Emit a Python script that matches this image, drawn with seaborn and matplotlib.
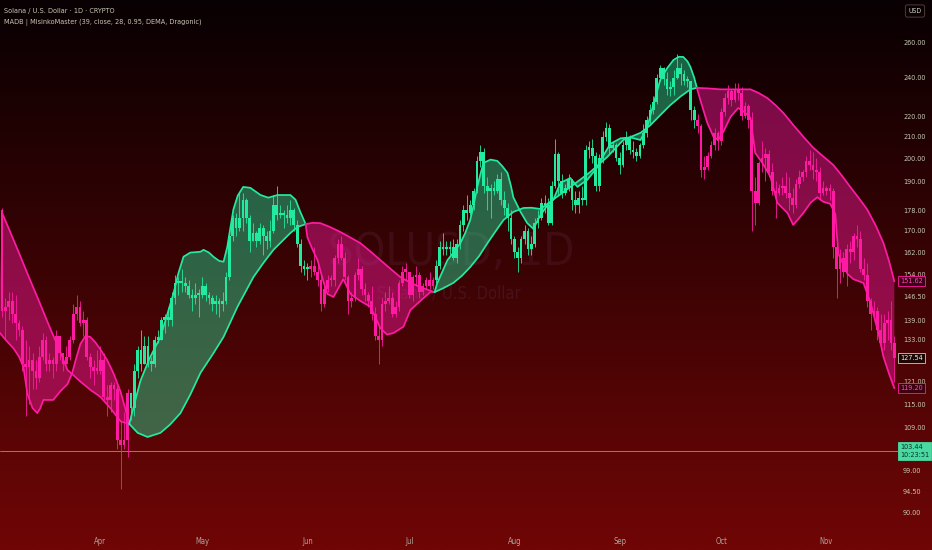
import numpy as np
import pandas as pd
import matplotlib
matplotlib.use("Agg")
import matplotlib.pyplot as plt
import matplotlib.transforms as mtransforms
from matplotlib import font_manager
from matplotlib.ticker import NullLocator
import seaborn as sns

# ---------------- data ----------------
start_date = "2025-03-02"
first_open = 142.0

close = [
    # March (from Mar 2)
    178, 142, 143, 145, 141, 138, 136, 126, 125, 127, 124, 122, 128, 133, 126,
    127, 126, 134, 129, 126, 128, 133, 141, 143, 138, 139, 128, 125, 124, 124,
    # April
    127, 117, 116, 120, 119, 106, 105, 106, 118, 114, 124, 130, 126, 131, 126,
    126, 133, 133, 139, 140, 139, 146, 151, 151, 151, 150, 147, 146, 147, 147,
    # May
    150, 147, 146, 144, 145, 144, 145, 153, 168, 175, 171, 175, 182, 175, 166,
    169, 166, 171, 168, 166, 170, 180, 176, 177, 176, 175, 178, 172, 165, 157, 156,
    # June
    156, 157, 155, 152, 144, 149, 152, 152, 160, 165, 160, 153, 145, 146, 154,
    156, 149, 147, 145, 141, 134, 133, 144, 145, 146, 141, 143, 151, 155, 155,
    # July
    147, 153, 154, 148, 150, 152, 150, 152, 157, 164, 163, 163, 164, 160, 165,
    172, 178, 177, 180, 186, 199, 203, 188, 186, 187, 186, 191, 182, 179, 175, 167,
    # August
    162, 160, 167, 170, 163, 165, 173, 175, 181, 180, 173, 188, 202, 190, 185,
    187, 191, 182, 180, 183, 182, 204, 205, 201, 188, 200, 210, 214, 205, 206, 200,
    # September
    197, 206, 210, 204, 203, 201, 206, 212, 218, 223, 227, 240, 245, 239, 234,
    235, 240, 245, 242, 238, 238, 223, 218, 215, 195, 196, 201, 206, 212, 208,
    # October
    222, 229, 233, 228, 234, 232, 220, 225, 218, 186, 181, 198, 200, 202, 194,
    186, 185, 187, 188, 185, 183, 180, 189, 192, 194, 199, 197, 195, 194, 185, 187,
    # November (to Nov 21)
    186, 186, 164, 156, 160, 155, 163, 162, 168, 167, 156, 154, 145, 141, 142,
    136, 132, 138, 139, 132, 127.54,
]

high = [
    180, 179, 146, 148, 148, 147, 139, 137, 133, 131, 129, 127, 131, 135, 134,
    129, 128, 136, 134, 129, 131, 134, 144, 147, 145, 142, 140, 129, 127, 130,
    131, 129, 120, 121, 121, 120, 111, 113, 119, 118, 126, 131, 136, 134, 134,
    128, 134, 136, 140, 141, 143, 148, 154, 153, 156, 153, 152, 149, 151, 149,
    153, 151, 148, 147, 147, 146, 148, 155, 169, 176, 177, 185, 185, 183, 176,
    173, 170, 173, 172, 170, 174, 184, 188, 180, 178, 180, 182, 179, 174, 167, 159,
    158, 159, 164, 158, 154, 151, 154, 154, 161, 167, 168, 162, 154, 148, 155,
    160, 157, 151, 148, 150, 143, 137, 146, 148, 150, 148, 145, 152, 157, 158,
    155, 154, 157, 155, 151, 153, 155, 153, 159, 166, 169, 166, 166, 167, 167,
    174, 180, 184, 182, 187, 201, 206, 205, 192, 189, 190, 193, 194, 186, 181, 178,
    168, 164, 168, 172, 171, 168, 175, 178, 183, 184, 183, 190, 209, 203, 193,
    189, 193, 191, 186, 186, 188, 206, 208, 209, 203, 202, 213, 217, 216, 208, 207,
    203, 208, 213, 211, 208, 205, 207, 216, 220, 226, 230, 242, 247, 246, 243,
    238, 244, 253, 248, 244, 241, 238, 225, 221, 216, 201, 203, 208, 214, 213,
    224, 232, 236, 234, 237, 237, 235, 227, 226, 222, 192, 199, 208, 205, 204,
    198, 190, 189, 192, 194, 192, 187, 191, 195, 195, 201, 204, 203, 200, 196, 190,
    188, 189, 187, 167, 163, 162, 165, 166, 169, 172, 170, 160, 158, 146, 145,
    143, 141, 141, 142, 145, 134,
]

low = [
    141, 140, 133, 139, 138, 133, 134, 124, 112, 115, 119, 119, 121, 127, 124,
    124, 122, 124, 127, 124, 126, 127, 132, 139, 137, 134, 127, 122, 120, 123,
    123, 116, 112, 113, 116, 104, 95, 104, 102, 111, 112, 122, 124, 126, 125,
    124, 125, 132, 133, 135, 137, 137, 144, 147, 148, 148, 146, 142, 144, 140,
    146, 145, 144, 142, 141, 140, 142, 144, 152, 166, 168, 170, 170, 173, 162,
    166, 164, 165, 161, 163, 164, 169, 174, 175, 171, 173, 172, 170, 164, 155, 154,
    152, 153, 154, 150, 142, 143, 148, 150, 150, 158, 159, 152, 141, 143, 145,
    152, 147, 145, 143, 139, 133, 126, 131, 142, 144, 140, 140, 142, 150, 152,
    146, 145, 150, 146, 147, 149, 149, 149, 151, 156, 161, 161, 161, 159, 158,
    163, 170, 174, 176, 178, 185, 196, 185, 178, 175, 184, 185, 180, 176, 170, 165,
    160, 155, 158, 165, 161, 161, 164, 171, 174, 177, 172, 172, 187, 184, 183,
    184, 186, 178, 177, 177, 180, 180, 200, 198, 186, 186, 198, 208, 202, 203, 199,
    193, 196, 204, 202, 200, 199, 200, 205, 210, 216, 221, 226, 238, 236, 231,
    230, 231, 239, 236, 236, 235, 218, 214, 212, 192, 191, 195, 200, 204, 204,
    206, 220, 226, 225, 227, 228, 218, 219, 214, 170, 172, 180, 194, 190, 192,
    184, 175, 184, 184, 183, 178, 177, 179, 187, 190, 192, 195, 191, 190, 182, 184,
    184, 182, 160, 146, 151, 153, 150, 158, 159, 164, 155, 152, 143, 136, 139,
    133, 130, 130, 133, 130, 121,
]

# trend colouring of the indicator (dates where it flips), starting bearish
trend_flip_dates = ["2025-04-10", "2025-06-02", "2025-07-09", "2025-09-24"]

# band lines (day offset from start_date, price)
fast_days = [
    0, 2, 4.4, 6, 7.3, 8.5, 10, 11.4, 12.3, 13.2, 16.1, 18.2, 20.3, 21.7, 23, 24.1,
    25.6, 27, 28.5, 30, 32, 33.8, 35.9, 37.3, 38.5,
    40, 41.8, 44.5, 47.7, 49.5, 51.5, 53, 54.5, 56.5, 59.5, 60.4, 62, 63.3, 65,
    66.3, 67.4, 68.3, 69.2, 70.5, 72.1, 74.2, 77.2, 79.5, 82.2, 86, 87.5, 88.9, 90.5,
    91, 92.5, 94, 95.5, 96.9, 98.7, 100.2, 101.6, 103.7, 106.6, 109.6, 111, 112.5,
    114.5, 116.4, 119.3, 121.4, 124.3, 127.3, 128.5,
    129.3, 130.8, 132.3, 134.2, 136.1, 137.5, 139, 140, 141.1, 142, 142.9, 145, 147,
    148.5, 150, 151, 151.7, 153.8, 155.8, 157.6, 159.7, 161.5, 163.5, 165.6, 168.5,
    170.6, 173.5, 176.5, 178.5, 180.3, 183.3, 186.2, 189.2, 191.2, 193, 195, 197,
    198.9, 200.5, 201.8, 203, 203.9, 205, 205.8,
    206.8, 208.9, 210.7, 212.1, 213.6, 215.7, 218, 219.5, 221.6, 223, 225.1, 227.5,
    229.5, 232.5, 234.2, 235.7, 237.2, 239.3, 241.3, 243.1, 245.1, 246.6, 247.5,
    250.2, 251.9, 254.9, 257, 259.3, 260.8, 262.5, 264,
]
fast_vals = [
    135.5, 133, 130.4, 128, 125.1, 117.6, 114, 112.7, 114, 116.1, 116.1, 118.4, 120.3,
    123.4, 128, 131.7, 134.1, 133.8, 132.2, 130.1, 127, 123.4, 118.4, 114, 110,
    115, 121.2, 127.5, 133.8, 140, 147.4, 154.5, 160.3, 161.8, 162.1, 162.8, 161.8,
    160.3, 158.8, 158.5, 163.9, 171, 178.3, 184, 187.6, 187.2, 184.2, 183.1, 184.2,
    184.2, 182.3, 177.4, 172.5,
    167.5, 163, 159.1, 152.5, 147.4, 146.4, 149.5, 152.4, 147.4, 145.1, 143.2, 140,
    136.5, 134.5, 135, 136.9, 142.2, 145.1, 148.1, 148,
    151.1, 155, 159.1, 162, 165.3, 169, 174.1, 180, 187.6, 193, 198, 199.5, 198.9,
    196.5, 193.6, 188, 183.3, 177.4, 172.9, 170.7, 176, 179.5, 182.3, 189.3, 191.4,
    187.6, 190.6, 196.2, 202, 206.7, 209.3, 209.7, 208.5, 214.7, 226, 238.7, 245,
    249.7, 251.5, 251.4, 249, 245.8, 240, 234.5,
    228.2, 216.6, 210, 208.5, 212.4, 219.6, 224.1, 222.4, 219.1, 202.5, 198, 191.9,
    181, 176.9, 172.2, 174.5, 176.9, 181, 183.3, 181.4, 180.6, 176.5, 161.4,
    154.2, 152.4, 151.1, 144.5, 135, 127.9, 123, 119.2,
]

slow_days = [
    1, 3, 6, 9, 12, 15, 18, 20.3, 22, 24, 27, 30, 33, 36, 38.5,
    41, 43.9, 47.7, 50.5, 53.6, 56.5, 59.5, 63, 66.3, 70.4, 75.1, 78, 81, 86, 88.1, 90.5,
    92.5, 94.8, 97.5, 100.7, 103.5, 106.6, 109.5, 112.5, 115.5, 118.4, 121.4, 124.3, 128.5,
    131, 134, 136.5, 139, 141.6, 144.1, 146.5, 148.8, 151.7, 154.7, 157, 159.7, 165.6,
    169.4, 174.4, 179.4, 184.1, 189.2, 192.1, 195, 198, 201, 203.9, 205.8,
    209, 212.7, 217, 221.6, 224, 226.6, 229, 231.3, 234.3, 237.2, 240.1, 243, 246,
    248.5, 251, 253.5, 256, 258.5, 260.8, 262.5, 264,
]
slow_vals = [
    177, 170.8, 161.7, 152.9, 144.8, 136.9, 129.8, 124.2, 122.8, 121.1, 118.8, 116.9,
    113.9, 110.6, 110,
    107.8, 106.8, 107.8, 109.8, 112.7, 117.5, 123.4, 128.5, 133.8, 143.2, 153.1, 158,
    162.8, 169.1, 171.4, 172.5,
    173, 172.9, 171.5, 169.5, 167.5, 165.3, 162.3, 159.1, 156, 153.1, 151.2, 149.7, 148,
    149.3, 151.1, 153.5, 156.6, 160.5, 165.3, 169.8, 174.1, 177.3, 178.9, 179, 178.5,
    184.5, 188.5, 194, 200.7, 208.5, 211.9, 215.6, 220.5, 225.6, 230, 233.7, 234.5,
    234.2, 233.7, 233.7, 233.7, 231.8, 229.1, 225.5, 221.6, 215.5, 210, 204.9, 201,
    197.1, 192.5, 187.6, 183, 178.3, 172, 165.3, 158.5, 151.62,
]

band_breaks = [38.5, 90.5, 128.5, 205.8]   # where the two lines meet and colour flips

price_ticks = [260, 240, 220, 210, 200, 190, 178, 170, 162, 154, 146.5, 139, 133,
               121, 115, 109, 99, 94.5, 90]
month_labels = ["Apr", "May", "Jun", "Jul", "Aug", "Sep", "Oct", "Nov"]
month_dates = ["2025-04-01", "2025-05-01", "2025-06-01", "2025-07-01",
               "2025-08-01", "2025-09-01", "2025-10-01", "2025-11-01"]

title_line1 = "Solana / U.S. Dollar \u00b7 1D \u00b7 CRYPTO"
title_line2 = "MADB | MisinkoMaster (39, close, 28, 0.95, DEMA, Dragonic)"
last_price = 127.54
upper_last = 151.62
lower_last = 119.20
hline_price = 103.44

# ---------------- style ----------------
sns.set_theme(style="dark")

# prefer a condensed face (the screenshot text is narrow)
FONT_STRETCH = "normal"
SCALE = 0.88
names = {f.name for f in font_manager.fontManager.ttflist}
if "Liberation Sans Narrow" in names:
    plt.rcParams["font.family"] = ["Liberation Sans Narrow", "DejaVu Sans"]
    SCALE = 1.0
else:
    cond = [f for f in font_manager.fontManager.ttflist
            if f.name == "DejaVu Sans" and "ondensed" in f.fname and "Bold" not in f.fname
            and "Oblique" not in f.fname]
    if cond:
        plt.rcParams["font.family"] = ["DejaVu Sans"]
        FONT_STRETCH = "condensed"
        SCALE = 0.95
    else:
        plt.rcParams["font.family"] = ["Liberation Sans", "DejaVu Sans"]
plt.rcParams["font.stretch"] = FONT_STRETCH

GREEN = "#22eba1"
PINK = "#ff1aa3"
TXT = "#c4c6b2"
FS = 5.5 * SCALE

W, H = 932, 550
AX_W = 898
fig = plt.figure(figsize=(W / 100, H / 100), dpi=100)

# background gradient (whole figure)
bg = fig.add_axes([0, 0, 1, 1], zorder=0)
top = np.array([8, 0, 2]) / 255
bot = np.array([112, 6, 6]) / 255
t = np.linspace(0, 1, 400)[:, None]
grad = (top[None, :] * (1 - t) + bot[None, :] * t)[:, None, :]
bg.imshow(grad, aspect="auto", extent=[0, 1, 0, 1], interpolation="bilinear")
bg.set_axis_off()

ax = fig.add_axes([0, 0, AX_W / W, 1], zorder=1)
ax.patch.set_alpha(0)
ax.set_yscale("log")
ax.set_ylim(82.8, 285.8)
ax.set_xlim(0.4126, 265.08)
for s in ax.spines.values():
    s.set_visible(False)
ax.grid(False)

# ---------------- candles ----------------
n = len(close)
days = np.arange(n)
dates = pd.date_range(start_date, periods=n, freq="D")
opens = np.array([first_open] + close[:-1], dtype=float)
closes = np.array(close, dtype=float)
highs = np.array(high, dtype=float)
lows = np.array(low, dtype=float)

flips = pd.to_datetime(trend_flip_dates)
state = np.array([np.sum(flips <= d) % 2 for d in dates])   # 0 = bearish, 1 = bullish
cols = np.where(state == 1, GREEN, PINK)

ax.vlines(days, lows, highs, colors=cols, linewidth=0.6, zorder=4)
bottoms = np.minimum(opens, closes)
heights = np.maximum(np.abs(closes - opens), bottoms * 0.005)
ax.bar(days, heights, bottom=bottoms, width=0.8, color=cols, linewidth=0, zorder=5)

# ---------------- bands ----------------
fd = np.array(fast_days, float); fv = np.array(fast_vals, float)
sd = np.array(slow_days, float); sv = np.array(slow_vals, float)
bounds = [-1] + band_breaks + [300]
for i in range(len(bounds) - 1):
    lo, hi = bounds[i], bounds[i + 1]
    c = PINK if i % 2 == 0 else GREEN
    fm = (fd >= lo - 1e-9) & (fd <= hi + 1e-9)
    sm = (sd >= lo - 1e-9) & (sd <= hi + 1e-9)
    fx, fy = list(fd[fm]), list(fv[fm])
    sx, sy = list(sd[sm]), list(sv[sm])
    px = fx + sx[::-1]
    py = fy + sy[::-1]
    ax.fill(px, py, color=c, alpha=0.43 if c == PINK else 0.42, linewidth=0, zorder=2)
    sns.lineplot(x=fx, y=fy, ax=ax, color=c, linewidth=1.25, sort=False,
                 estimator=None, zorder=6)
    sns.lineplot(x=sx, y=sy, ax=ax, color=c, linewidth=1.25, sort=False,
                 estimator=None, zorder=6)

# horizontal line
ax.axhline(hline_price, color="#a58c8c", linewidth=0.6, zorder=3)

# ---------------- watermark ----------------
ax.text(451 / AX_W, 1 - 252 / H, "SOLUSD, 1D", transform=ax.transAxes,
        ha="center", va="center", fontsize=34 * SCALE, color="#461019", alpha=0.75,
        zorder=1.5)
ax.text(449 / AX_W, 1 - 294 / H, "Solana / U.S. Dollar", transform=ax.transAxes,
        ha="center", va="center", fontsize=12.5 * SCALE, color="#4c1620", alpha=0.75,
        zorder=1.5)

# ---------------- axes labels ----------------
ax.yaxis.tick_right()
ax.set_yticks(price_ticks)
ax.set_yticklabels([f"{v:.2f}" for v in price_ticks])
ax.yaxis.set_minor_locator(NullLocator())
ax.tick_params(axis="y", length=0, pad=3.6, labelsize=FS, labelcolor=TXT)
ax.set_xticks([])
ax.set_xlabel(""); ax.set_ylabel("")

start = pd.Timestamp(start_date)
xtr = mtransforms.blended_transform_factory(ax.transData, ax.transAxes)
for lab, md in zip(month_labels, month_dates):
    dx = (pd.Timestamp(md) - start).days
    ax.text(dx, 1 - 542 / H, lab, transform=xtr, ha="center", va="center",
            fontsize=FS * 1.05, color="#a8a79e", clip_on=False)

# price tags
ytr = mtransforms.blended_transform_factory(ax.transAxes, ax.transData)
def tag(price, text, fc, ec, tc, x_px=900):
    ax.text(x_px / AX_W, price, text, transform=ytr, ha="left", va="center",
            fontsize=FS, color=tc, clip_on=False, zorder=20, linespacing=1.3,
            bbox=dict(boxstyle="square,pad=0.28", fc=fc, ec=ec, lw=0.6))

tag(upper_last, f"{upper_last:.2f}", "#3c0018", PINK, "#ff4ab5")
tag(lower_last, f"{lower_last:.2f}", "#3c0010", PINK, "#ff4ab5")
tag(last_price, f"{last_price:.2f}", "#1e0604", "#c9cbc4", "#e4f4ea")
tag(hline_price, f"{hline_price:.2f}\n10:23:51", "#49d9a2", "#49d9a2", "#0c3322")

# titles / currency box
fig.text(4 / W, 1 - 11 / H, title_line1, fontsize=FS, color=TXT, va="center", ha="left")
fig.text(4 / W, 1 - 22 / H, title_line2, fontsize=FS, color=TXT, va="center", ha="left")
fig.text(915 / W, 1 - 11 / H, "USD", fontsize=FS * 0.95, color="#d0d0c8", va="center",
         ha="center",
         bbox=dict(boxstyle="round,pad=0.45,rounding_size=0.3", fc="none", ec="#5a4444", lw=0.6))

fig.savefig("out.png", dpi=100)
